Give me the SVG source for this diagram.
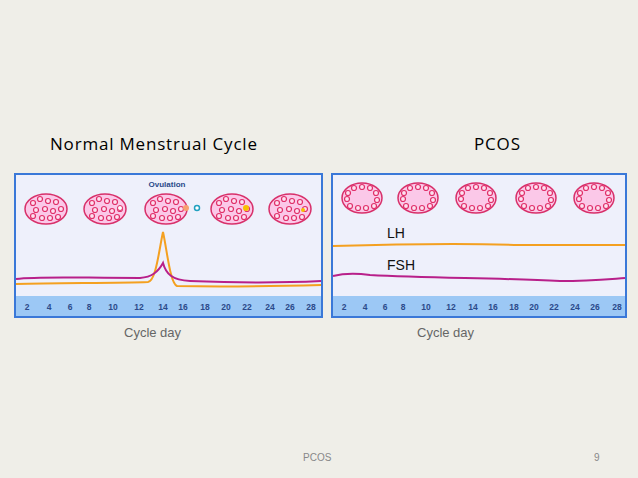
<svg xmlns="http://www.w3.org/2000/svg" width="638" height="478" viewBox="0 0 638 478">
<style>
.t{font-family:"Open Sans","Liberation Sans",sans-serif;fill:#000}
.ax{font-family:"Liberation Sans",Arial,sans-serif;font-size:8.5px;font-weight:bold;fill:#2b4a8a;text-anchor:middle}
.cd{font-family:"Liberation Sans",Arial,sans-serif;font-size:13px;fill:#666}
.ov{fill:#fbc8e8;stroke:#d8306a;stroke-width:1.5}
.f{fill:#fde0f0;stroke:#e0306a;stroke-width:1.2}
.panel{fill:#eef0fb;stroke:#3a78d8;stroke-width:2}
</style>
<defs>
<g id="ovN">
<ellipse class="ov" cx="0" cy="0" rx="21" ry="15"/>
<g class="f"><circle cx="-13" cy="-6" r="2.5"/><circle cx="-6" cy="-10" r="2.5"/><circle cx="2" cy="-8" r="2.5"/><circle cx="10" cy="-7" r="2.5"/><circle cx="-10" cy="1" r="2.5"/><circle cx="-1" cy="0" r="2.5"/><circle cx="7" cy="2" r="2.5"/><circle cx="15" cy="0" r="2.5"/><circle cx="-13" cy="7" r="2.5"/><circle cx="-4" cy="9" r="2.5"/><circle cx="4" cy="9" r="2.5"/><circle cx="12" cy="8" r="2.5"/></g>
</g>
<g id="ovP">
<ellipse class="ov" cx="0" cy="0" rx="20" ry="15"/>
<g class="f"><circle cx="-8" cy="-10" r="2.5"/><circle cx="0" cy="-11" r="2.5"/><circle cx="8" cy="-10" r="2.5"/><circle cx="14" cy="-5" r="2.5"/><circle cx="15" cy="2" r="2.5"/><circle cx="12" cy="8" r="2.5"/><circle cx="4" cy="10" r="2.5"/><circle cx="-4" cy="10" r="2.5"/><circle cx="-12" cy="8" r="2.5"/><circle cx="-15" cy="1" r="2.5"/><circle cx="-14" cy="-5" r="2.5"/></g>
</g>
</defs>
<rect width="638" height="478" fill="#efeee8"/>
<text class="t" x="50" y="150" font-size="17" textLength="207">Normal Menstrual Cycle</text>
<text class="t" x="474" y="150" font-size="17" textLength="46">PCOS</text>

<g id="normal">
<rect class="panel" x="15" y="174" width="307" height="143"/>
<rect x="16" y="296" width="305" height="20" fill="#9cc8f5"/>
<text x="167" y="187" font-family="Liberation Sans,Arial,sans-serif" font-size="8" font-weight="bold" fill="#2b4a8a" text-anchor="middle">Ovulation</text>
<use href="#ovN" x="46" y="209"/>
<use href="#ovN" x="105" y="209"/>
<circle cx="120" cy="208" r="2.5" fill="#fff" stroke="#e0306a"/>
<use href="#ovN" x="166" y="209"/>
<circle cx="186" cy="208" r="3" fill="#f7a070"/>
<circle cx="197" cy="208" r="2.5" fill="#fff" stroke="#20a0c0" stroke-width="1.5"/>
<use href="#ovN" x="232" y="209"/>
<circle cx="246" cy="208" r="3" fill="#f8c000"/>
<use href="#ovN" x="290" y="209"/>
<circle cx="303" cy="210" r="2" fill="#f8c000"/>
<path d="M16,284 C60,283 120,283 148,282 C156,281 159,250 163,232 C167,250 170,283 177,286 C230,287 280,286 321,285" fill="none" stroke="#f4a020" stroke-width="2"/>
<path d="M16,279 C40,276 80,278 140,278 C152,277 158,272 163,263 C166,274 172,280 190,281 C240,283 280,283 321,281" fill="none" stroke="#b8208a" stroke-width="2"/>
<g class="ax"><text x="27" y="310">2</text><text x="49" y="310">4</text><text x="70" y="310">6</text><text x="89" y="310">8</text><text x="113" y="310">10</text><text x="139" y="310">12</text><text x="163" y="310">14</text><text x="183" y="310">16</text><text x="205" y="310">18</text><text x="226" y="310">20</text><text x="247" y="310">22</text><text x="270" y="310">24</text><text x="290" y="310">26</text><text x="311" y="310">28</text></g>
</g>

<g id="pcos">
<rect class="panel" x="332" y="174" width="294" height="143"/>
<rect x="333" y="296" width="292" height="20" fill="#9cc8f5"/>
<use href="#ovP" x="362" y="198"/>
<use href="#ovP" x="418" y="198"/>
<use href="#ovP" x="476" y="198"/>
<use href="#ovP" x="536" y="198"/>
<use href="#ovP" x="594" y="198"/>
<text x="387" y="238" font-family="Liberation Sans,Arial,sans-serif" font-size="14" fill="#111">LH</text>
<path d="M333,246 C400,244 460,243 520,245 C570,245 600,245 625,245" fill="none" stroke="#f4a020" stroke-width="2"/>
<text x="387" y="270" font-family="Liberation Sans,Arial,sans-serif" font-size="14" fill="#111">FSH</text>
<path d="M333,276 C345,273 355,273 370,275 C430,278 500,278 560,281 C590,281 610,279 625,278" fill="none" stroke="#b8208a" stroke-width="2"/>
<g class="ax"><text x="344" y="310">2</text><text x="365" y="310">4</text><text x="385" y="310">6</text><text x="403" y="310">8</text><text x="426" y="310">10</text><text x="451" y="310">12</text><text x="473" y="310">14</text><text x="493" y="310">16</text><text x="514" y="310">18</text><text x="534" y="310">20</text><text x="554" y="310">22</text><text x="575" y="310">24</text><text x="595" y="310">26</text><text x="617" y="310">28</text></g>
</g>

<text class="cd" x="124" y="337">Cycle day</text>
<text class="cd" x="417" y="337">Cycle day</text>
<text x="303" y="461" font-family="Liberation Sans,Arial,sans-serif" font-size="10" fill="#888">PCOS</text>
<text x="594" y="461" font-family="Liberation Sans,Arial,sans-serif" font-size="10" fill="#888">9</text>
</svg>
